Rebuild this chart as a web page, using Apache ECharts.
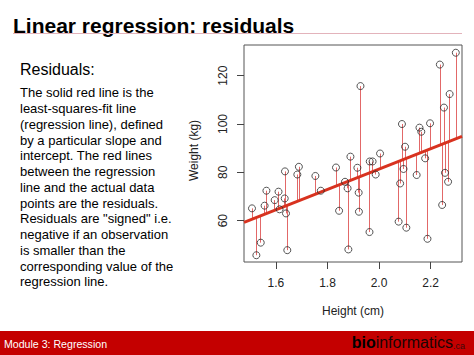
<!DOCTYPE html>
<html>
<head>
<meta charset="utf-8">
<script src="https://cdn.jsdelivr.net/npm/echarts@6/dist/echarts.min.js"></script>
<style>
html,body{margin:0;padding:0;background:#fff;}
#chart{width:474px;height:355px;}
</style>
</head>
<body>
<div id="chart"></div>
<script>
// Data
const heights = [1.507, 1.524, 1.541, 1.556, 1.563, 1.595, 1.610, 1.614, 1.634, 1.635,
                 1.639, 1.644, 1.683, 1.689, 1.753, 1.774, 1.833, 1.845, 1.868, 1.878,
                 1.881, 1.889, 1.916, 1.921, 1.922, 1.928, 1.963, 1.964, 1.975, 1.987,
                 2.004, 2.076, 2.082, 2.089, 2.095, 2.101, 2.106, 2.146, 2.157, 2.164,
                 2.179, 2.188, 2.198, 2.236, 2.245, 2.252, 2.256, 2.268, 2.274, 2.298];
const weights = [65.1, 45.7, 50.9, 66.2, 72.4, 68.5, 72.0, 64.7, 69.2, 80.4,
                 63.0, 47.8, 79.1, 82.3, 78.5, 72.4, 82.0, 64.1, 76.1, 73.4,
                 48.1, 86.5, 81.9, 71.6, 63.7, 115.7, 55.3, 84.5, 84.5, 79.1,
                 87.8, 59.6, 75.4, 100.0, 81.4, 90.6, 57.1, 78.9, 98.5, 96.8,
                 85.8, 52.5, 100.3, 124.6, 66.5, 106.8, 79.8, 76.1, 112.4, 129.5];
const xTicks = [1.6, 1.8, 2.0, 2.2];
const yTicks = [60, 80, 100, 120];
const titleText = 'Linear regression: residuals';
const subTitle = 'Residuals:';
const bodyLines = [
  'The solid red line is the',
  'least-squares-fit line',
  '(regression line), defined',
  'by a particular slope and',
  'intercept. The red lines',
  'between the regression',
  'line and the actual data',
  'points are the residuals.',
  'Residuals are "signed" i.e.',
  'negative if an observation',
  'is smaller than the',
  'corresponding value of the',
  'regression line.'
];
const footerLeft = 'Module 3: Regression';

// least squares fit
const n = heights.length;
const mx = heights.reduce((s, v) => s + v, 0) / n;
const my = weights.reduce((s, v) => s + v, 0) / n;
let sxy = 0, sxx = 0;
for (let i = 0; i < n; i++) { sxy += (heights[i] - mx) * (weights[i] - my); sxx += (heights[i] - mx) ** 2; }
const slope = sxy / sxx;
const intercept = my - slope * mx;

const xMin = 1.476, xMax = 2.322, yMin = 42.9, yMax = 132.7;
const FF = '"Liberation Sans", Arial, sans-serif';

const chart = echarts.init(document.getElementById('chart'), null, {renderer: 'svg'});
const option = {
  animation: false,
  backgroundColor: '#ffffff',
  grid: {left: 244, top: 45, width: 218, height: 217, show: true, borderColor: '#555', borderWidth: 1, backgroundColor: 'transparent'},
  xAxis: {
    type: 'value', min: xMin, max: xMax,
    splitLine: {show: false},
    axisLine: {show: false},
    axisTick: {show: true, customValues: xTicks, length: 7, lineStyle: {color: '#444'}},
    axisLabel: {customValues: xTicks, formatter: v => v.toFixed(1), margin: 15, fontSize: 12, color: '#222', fontFamily: FF},
    name: 'Height (cm)', nameLocation: 'middle', nameGap: 43,
    nameTextStyle: {fontSize: 12, color: '#222', fontFamily: FF}
  },
  yAxis: {
    type: 'value', min: yMin, max: yMax,
    splitLine: {show: false},
    axisLine: {show: false},
    axisTick: {show: true, customValues: yTicks, length: 7, lineStyle: {color: '#444'}},
    axisLabel: {customValues: yTicks, rotate: 90, margin: 15, fontSize: 12, color: '#222', fontFamily: FF},
    name: 'Weight (kg)', nameLocation: 'middle', nameGap: 44, nameRotate: 90,
    nameTextStyle: {fontSize: 12, color: '#222', fontFamily: FF, padding: [0, 0, 0, 6]}
  },
  series: [
    {
      type: 'lines', coordinateSystem: 'cartesian2d', silent: true, z: 1,
      lineStyle: {color: '#e26868', width: 1, opacity: 1},
      data: heights.map((h, i) => ({coords: [[h, weights[i]], [h, intercept + slope * h]]}))
    },
    {
      type: 'line', silent: true, z: 2, symbol: 'none', clip: true,
      lineStyle: {color: '#d8321f', width: 3},
      data: [[xMin, intercept + slope * xMin], [xMax, intercept + slope * xMax]]
    },
    {
      type: 'scatter', silent: true, z: 3, symbol: 'circle', symbolSize: 7,
      itemStyle: {color: 'rgba(255,255,255,0)', borderColor: '#2a2a2a', borderWidth: 1},
      data: heights.map((h, i) => [h, weights[i]])
    }
  ],
  graphic: [
    {type: 'rect', left: 0, top: 331, shape: {width: 474, height: 24}, style: {fill: '#c40000'}, z: 0},
    {type: 'text', x: 13, y: 25, style: {text: titleText, font: 'bold 21px ' + FF, fill: '#000', textVerticalAlign: 'middle'}},
    {type: 'line', shape: {x1: 13, y1: 33.5, x2: 462, y2: 33.5}, style: {stroke: '#e3b3bb', lineWidth: 1}},
    {type: 'text', x: 20, y: 69, style: {text: subTitle, font: '16px ' + FF, fill: '#000', textVerticalAlign: 'middle'}},
    {type: 'text', x: 20, y: 85, style: {text: bodyLines.join('\n'), font: '13px ' + FF, lineHeight: 15.75, fill: '#000', textVerticalAlign: 'top'}},
    {type: 'text', x: 4, y: 344, style: {text: footerLeft, font: '10.6px ' + FF, fill: '#fff', textVerticalAlign: 'middle'}},
    {type: 'text', x: 465, y: 342, style: {
      text: '{b|bio}{r|informatics}{c|.ca}', textAlign: 'right', textVerticalAlign: 'middle',
      rich: {
        b: {font: 'bold 16px ' + FF, fill: '#000', verticalAlign: 'bottom'},
        r: {font: '16px ' + FF, fill: '#1a0505', verticalAlign: 'bottom'},
        c: {font: '9px ' + FF, fill: '#3a0a0a', verticalAlign: 'bottom'}
      }
    }}
  ]
};
chart.setOption(option);
</script>
</body>
</html>
